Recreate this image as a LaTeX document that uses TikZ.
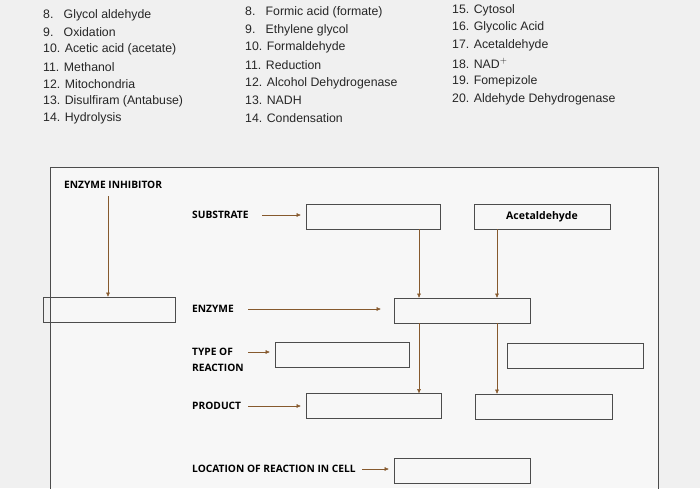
\documentclass[tikz,border=0pt]{standalone}
\usepackage{fontspec}
\setmainfont{Liberation Sans}
\newfontfamily\lbl{Open Sans}
\usetikzlibrary{arrows.meta}
\begin{document}
\begin{tikzpicture}[x=1pt,y=-1pt,
  itm/.style={anchor=west,inner sep=0pt,font=\fontsize{12.3}{14}\selectfont,text=black!85},
  lab/.style={anchor=west,inner sep=0pt,font=\lbl\bfseries\fontsize{10.2}{16}\selectfont,align=left},
  bx/.style={draw=black!70,line width=0.7pt,inner sep=0pt},
  arr/.style={draw=brown!70!black,line width=0.4pt,-{Triangle[length=4pt,width=3.5pt]}}]
\fill[gray!12] (0,0) rectangle (700,488);
\useasboundingbox (0,0) rectangle (700,488);
% list
\foreach \t [count=\i from 0] in {8.\ \ \ Glycol aldehyde,9.\ \ \ Oxidation,10. Acetic acid (acetate),11. Methanol,12. Mitochondria,13. Disulfiram (Antabuse),14. Hydrolysis}
  \node[itm] (a\i) at (43,{15+17.2*\i}) {\t};
\foreach \t [count=\i from 0] in {8.\ \ \ Formic acid (formate),9.\ \ \ Ethylene glycol,10. Formaldehyde,11. Reduction,12. Alcohol Dehydrogenase,13. NADH,14. Condensation}
  \node[itm] (b\i) at (245,{12.5+17.6*\i}) {\t};
\foreach \t [count=\i from 0] in {15. Cytosol,16. Glycolic Acid,17. Acetaldehyde,18. NAD$^{+}$,19. Fomepizole,20. Aldehyde Dehydrogenase}
  \node[itm] (c\i) at (452,{10+17.8*\i}) {\t};
% frame
\fill[white!70!gray!20] (50,167) rectangle (658,488);
\draw[black!70,line width=0.8pt] (50,490) -- (50,167) -- (658,167) -- (658,490);
% labels
\node[lab] (inh) at (64,185) {ENZYME INHIBITOR};
\node[lab] (sub) at (192,215) {SUBSTRATE};
\node[lab] (enz) at (192,309) {ENZYME};
\node[lab] (typ) at (192,360) {TYPE OF\\REACTION};
\node[lab] (pro) at (192,406) {PRODUCT};
\node[lab] (loc) at (192,469) {LOCATION OF REACTION IN CELL};
% boxes
\node[bx,minimum width=132pt,minimum height=25pt] (bi) at (109,309.5) {};
\node[bx,minimum width=134pt,minimum height=25pt] (bs) at (373,216.5) {};
\node[bx,minimum width=136pt,minimum height=25pt,font=\lbl\bfseries\fontsize{10.5}{10}\selectfont] (ba) at (542,216.5) {Acetaldehyde};
\node[bx,minimum width=136pt,minimum height=25pt] (be) at (462,310.5) {};
\node[bx,minimum width=134pt,minimum height=25pt] (bt) at (342,354.5) {};
\node[bx,minimum width=136pt,minimum height=25pt] (bt2) at (575,355.5) {};
\node[bx,minimum width=135pt,minimum height=25pt] (bp) at (373.5,406) {};
\node[bx,minimum width=137pt,minimum height=25pt] (bp2) at (543.5,406.5) {};
\node[bx,minimum width=136pt,minimum height=25pt] (bl) at (462,470.5) {};
% connectors
\coordinate (i0) at (108,196);
\draw[arr] (i0) -- (i0 |- bi.north);
\coordinate (s0) at (262,215);
\draw[arr] (s0) -- ([xshift=-5pt]s0 -| bs.west);
\coordinate (e0) at (248,309);
\draw[arr] (e0) -- ([xshift=-13pt]e0 -| be.west);
\coordinate (t0) at (248,352);
\draw[arr] (t0) -- ([xshift=-5pt]t0 -| bt.west);
\coordinate (p0) at (248,406);
\draw[arr] (p0) -- ([xshift=-5pt]p0 -| bp.west);
\coordinate (l0) at (362,469);
\draw[arr] (l0) -- ([xshift=-5pt]l0 -| bl.west);
\coordinate (v1) at (419,0); \coordinate (v2) at (497,0);
\draw[arr] (v1 |- bs.south) -- (v1 |- be.north);
\draw[arr] (v2 |- ba.south) -- (v2 |- be.north);
\draw[arr] (v1 |- be.south) -- (v1 |- bp.north);
\draw[arr] (v2 |- be.south) -- (v2 |- bp2.north);
\end{tikzpicture}
\end{document}
